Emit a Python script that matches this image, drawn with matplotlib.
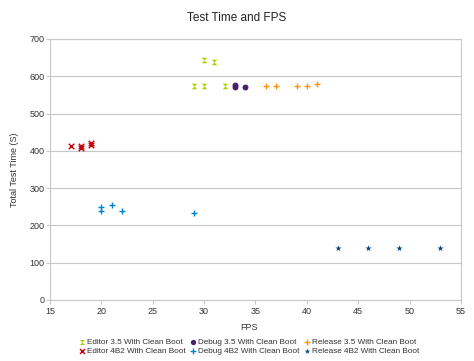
import matplotlib
matplotlib.use("Agg")
import matplotlib.pyplot as plt
from matplotlib.path import Path
import numpy as np

plt.rcParams['font.family'] = ['Liberation Sans', 'DejaVu Sans']

editor35_x = [29, 30, 32, 30, 31]
editor35_y = [575, 575, 575, 644, 638]
debug35_x = [33, 33, 34]
debug35_y = [576, 570, 570]
release35_x = [36, 37, 39, 40, 41]
release35_y = [575, 575, 575, 575, 580]
editor4b2_x = [17, 18, 18, 19, 19]
editor4b2_y = [413, 413, 408, 415, 420]
debug4b2_x = [20, 20, 21, 22, 29]
debug4b2_y = [250, 240, 255, 240, 234]
release4b2_x = [43, 46, 49, 53]
release4b2_y = [139, 139, 139, 139]

hourglass = Path([(-1, 1), (1, 1), (0, 0), (1, -1), (-1, -1), (0, 0), (-1, 1)],
                 [Path.MOVETO] + [Path.LINETO] * 5 + [Path.CLOSEPOLY])

series = [
    ("Editor 3.5 With Clean Boot", editor35_x, editor35_y, "#aecf00", hourglass, 16),
    ("Editor 4B2 With Clean Boot", editor4b2_x, editor4b2_y, "#c5000b", "x", 16),
    ("Debug 3.5 With Clean Boot", debug35_x, debug35_y, "#4b1f6f", "o", 18),
    ("Debug 4B2 With Clean Boot", debug4b2_x, debug4b2_y, "#0084d1", "+", 24),
    ("Release 3.5 With Clean Boot", release35_x, release35_y, "#ff950e", "+", 20),
    ("Release 4B2 With Clean Boot", release4b2_x, release4b2_y, "#004586", "*", 22),
]

fig = plt.figure(figsize=(4.74, 3.61), dpi=100)
ax = fig.add_axes([0.1055, 0.169, 0.867, 0.723])

for label, xs, ys, color, marker, size in series:
    lw = 1.0 if marker in ("x", "+") else 0
    ax.scatter(xs, ys, s=size, c=color, marker=marker, linewidths=lw, label=label, zorder=3)

ax.set_xlim(15, 55)
ax.set_ylim(0, 700)
ax.set_xticks(np.arange(15, 56, 5))
ax.set_yticks(np.arange(0, 701, 100))
ax.yaxis.grid(True, color="#c8c8c8", linewidth=0.8)
ax.set_axisbelow(True)
for sp in ax.spines.values():
    sp.set_color("#c8c8c8")
ax.tick_params(labelsize=6.5, colors="#333333", length=3, color="#c8c8c8")
ax.tick_params(axis="x", pad=2)
ax.tick_params(axis="y", pad=1)

fig.text(0.525, 0.092, "FPS", ha="center", va="center", fontsize=6.5, color="#333333")
fig.text(0.03, 0.53, "Total Test Time (S)", ha="center", va="center", rotation=90,
         fontsize=6.5, color="#333333")
fig.text(0.5, 0.95, "Test Time and FPS", ha="center", va="center", fontsize=8.5, color="#222222")

leg = fig.legend(loc="center", bbox_to_anchor=(0.525, 0.04), ncol=3, frameon=False,
                 fontsize=5.9, handletextpad=0.2, columnspacing=0.5, labelspacing=0.2,
                 handlelength=0.8, markerscale=0.9)
for t in leg.get_texts():
    t.set_color("#333333")

fig.savefig("out.png", dpi=100)
